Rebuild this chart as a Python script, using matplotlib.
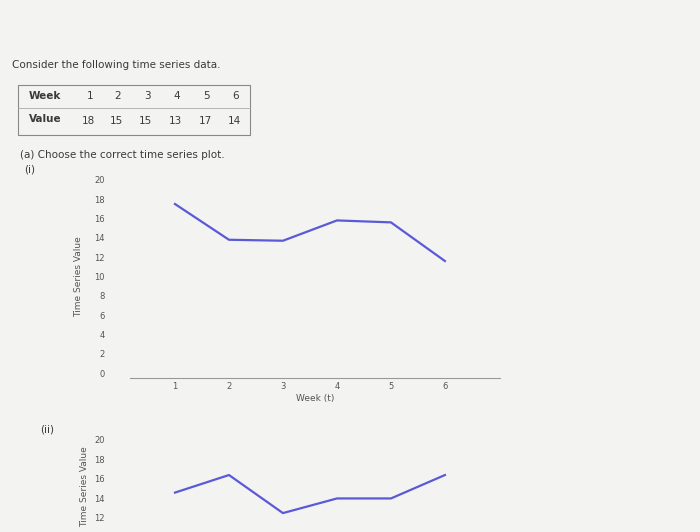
import matplotlib.pyplot as plt
from matplotlib.patches import Rectangle
from matplotlib.lines import Line2D

# data
weeks = [1, 2, 3, 4, 5, 6]
values = [18, 15, 15, 13, 17, 14]
plot_i = [17.5, 13.8, 13.7, 15.8, 15.6, 11.6]
plot_ii = [14.6, 16.4, 12.5, 14.0, 14.0, 16.4]
yticks = [0, 2, 4, 6, 8, 10, 12, 14, 16, 18, 20]
yticks_ii = [12, 14, 16, 18, 20]

W, H = 700, 532
bg = '#f3f3f1'
txt = '#3a3a3a'
line_col = '#5a5ad8'

fig = plt.figure(figsize=(7, 5.32), dpi=100, facecolor=bg)

def fx(x):
    return x / W

def fy(y):
    return 1 - y / H

def px_axes(left, top, right, bottom):
    return fig.add_axes([fx(left), fy(bottom), fx(right) - fx(left), (bottom - top) / H])

fig.text(fx(12), fy(65), 'Consider the following time series data.', fontsize=7.5, color=txt, va='center')

# table
fig.patches.append(Rectangle((fx(18), fy(135)), fx(232), 50 / H, transform=fig.transFigure,
                             fill=False, ec='#888888', lw=0.8))
fig.lines.append(Line2D([fx(18), fx(250)], [fy(108), fy(108)], transform=fig.transFigure,
                        color='#aaaaaa', lw=0.6))
fig.text(fx(45), fy(96), 'Week', fontsize=7.5, weight='bold', color=txt, ha='center', va='center')
fig.text(fx(45), fy(119), 'Value', fontsize=7.5, weight='bold', color=txt, ha='center', va='center')
col_x = [90, 118, 147, 177, 207, 236]
for cx, w, v in zip(col_x, weeks, values):
    fig.text(fx(cx), fy(96), str(w), fontsize=7.5, color=txt, ha='center', va='center')
    fig.text(fx(cx - 2), fy(121), str(v), fontsize=7.5, color=txt, ha='center', va='center')

fig.text(fx(20), fy(155), '(a) Choose the correct time series plot.', fontsize=7.5, color=txt, va='center')
fig.text(fx(24), fy(170), '(i)', fontsize=7.5, color=txt, va='center')
fig.text(fx(40), fy(430), '(ii)', fontsize=7.5, color=txt, va='center')

def draw_plot(ax, ys, ticks):
    ax.set_facecolor('none')
    ax.plot(weeks, ys, color=line_col, lw=1.6)
    ax.set_xlim(0.167, 7.02)
    ax.set_ylim(-0.5, 20.5)
    ax.set_yticks(ticks)
    ax.tick_params(axis='y', length=0, pad=18, labelsize=6, labelcolor='#555555')
    for s in ['top', 'right', 'left']:
        ax.spines[s].set_visible(False)
    ax.spines['bottom'].set_color('#999999')
    ax.spines['bottom'].set_linewidth(0.8)
    ax.tick_params(axis='x', length=0, pad=3, labelsize=6, labelcolor='#555555')

ax1 = px_axes(130, 175, 500, 378)
draw_plot(ax1, plot_i, yticks)
ax1.set_xticks(weeks)
ax1.set_ylabel('Time Series Value', fontsize=6.5, color='#555555', labelpad=8)
ax1.set_xlabel('Week (t)', fontsize=6.5, color='#555555', labelpad=2)
ax1.xaxis.set_label_coords(0.5, -0.08)

ax2 = px_axes(130, 435, 500, 640)
draw_plot(ax2, plot_ii, yticks_ii)
ax2.set_xticks([])
ax2.set_ylabel('Time Series Value', fontsize=6.5, color='#555555', labelpad=8)
ax2.yaxis.set_label_coords(-0.11, 0.75)

fig.savefig('out.png', dpi=100, facecolor=bg)
